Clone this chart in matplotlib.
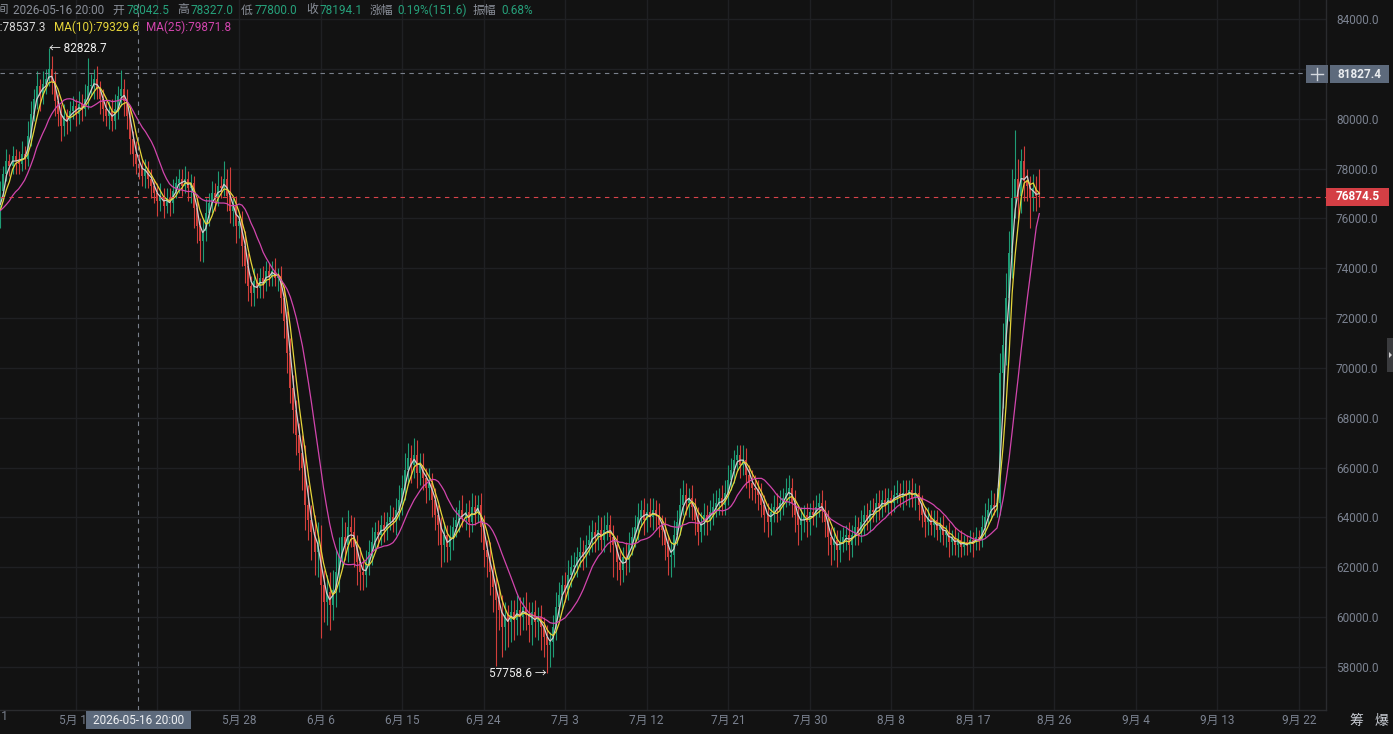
import numpy as np
import pandas as pd
import matplotlib
matplotlib.use("Agg")
import matplotlib.pyplot as plt
from matplotlib.patches import Rectangle, Polygon

plt.rcParams['font.family'] = ['Roboto', 'Noto Sans CJK SC', 'DejaVu Sans']

# ---------------- data (8h candles) ----------------
pre_closes = [75800, 76200, 76600, 76100, 76400, 76900, 77300, 76800, 76500, 76900,
              77200, 76700, 76300, 76600, 76200, 75900, 76300, 76700, 76400, 76000,
              75800, 76200, 76500, 76100]

closes = [
    77100, 77800, 78300, 78100, 78500, 78300, 78200, 78600, 78400, 79300,
    80200, 80800, 81300, 80900, 81400, 81600, 82000, 81500, 80700, 80200,
    79700, 80100, 79900, 80300, 80500, 80200, 80600, 80400, 80800, 81300,
    81300, 81600, 81200, 80800, 80400, 80100, 80300, 79900, 80400, 80900,
    81200, 80700, 80100, 79200, 78600, 78200, 78100, 77700, 78000, 77600,
    77300, 77000, 76700, 76900, 76500, 76800, 76600, 77100, 77400, 77600,
    77300, 77600, 77200, 77400, 76400, 75700, 75100, 75500, 76200, 76600,
    77000, 76800, 77300, 77200, 77600, 76900, 76300, 76500, 75700, 75900,
    74900, 74100, 73300, 73000, 73500, 73200, 73600, 73400, 73900, 73700,
    73900, 73600, 73700, 72800, 71900, 70600, 69200, 68300, 67300, 66600,
    66000, 64500, 63900, 63400, 62600, 62900, 61300, 60600, 61000, 60500,
    61100, 61800, 62500, 63200, 62900, 63600, 63400, 62800, 62200, 61800,
    61700, 62100, 62600, 63000, 63400, 63300, 63700, 63500, 63800, 64000,
    63800, 64300, 64700, 65200, 65900, 66400, 66100, 66500, 65800, 66100,
    65600, 65200, 65400, 64700, 64100, 63700, 62900, 63300, 62800, 63200,
    63600, 63900, 64300, 64000, 64200, 63800, 64400, 64200, 64500, 63600,
    62700, 62400, 61800, 61200, 60700, 60300, 59600, 60100, 59800, 60200,
    59900, 60300, 60000, 60400, 60100, 59700, 60200, 59800, 60000, 59600,
    59200, 58900, 59000, 59600, 60400, 60900, 61300, 61100, 61700, 62000,
    62100, 62400, 62600, 62500, 62900, 63100, 63400, 63200, 63500, 63100,
    63500, 63700, 63200, 62900, 62200, 61900, 62400, 62300, 62900, 63200,
    63600, 64000, 64300, 63900, 64200, 64000, 64300, 64100, 63700, 63500,
    62900, 62400, 62500, 63300, 63800, 64500, 64900, 64600, 64800, 64400,
    63900, 63400, 63800, 64100, 63900, 64200, 64400, 64600, 64800, 64500,
    65000, 65500, 65900, 66300, 66500, 66100, 66300, 65700, 65400, 65200,
    65100, 64900, 64500, 64100, 63800, 64200, 64400, 64300, 64600, 64800,
    65000, 65200, 64600, 64100, 63700, 63900, 64100, 63800, 64200, 64100,
    64400, 64600, 64300, 63800, 63200, 62900, 63100, 62700, 63000, 63200,
    63300, 62900, 63300, 63600, 63400, 63800, 64100, 63900, 64300, 64200,
    64600, 64400, 64700, 64500, 64800, 64600, 64900, 65000, 64800, 65000,
    64900, 65100, 64800, 65000, 64500, 64100, 63800, 64000, 63700, 63900,
    63500, 63700, 63300, 63400, 63000, 63200, 62900, 63100, 62800, 63000,
    62900, 63100, 63000, 63200, 63100, 63600, 64000, 64300, 64500, 64400,
    64600, 69800, 70900, 72800, 74600, 76800, 77600, 76900, 78300, 77500,
    77300, 76800, 77200, 76900, 76874.5]

# upper / lower wick lengths, in hundreds
wick_up = [
    4, 3, 5, 3, 4, 3, 4, 5, 3, 6,
    5, 4, 6, 3, 5, 4, 8.287, 5, 4, 3,
    4, 5, 3, 4, 4, 3, 5, 4, 6, 11.3,
    5, 4, 5, 3, 4, 3, 4, 5, 6, 4,
    7.5, 4, 5, 4, 3, 5, 4, 3, 4, 3,
    4, 3, 4, 5, 3, 4, 4, 5, 3, 4,
    4, 5, 3, 4, 3, 4, 3, 5, 6, 4,
    5, 4, 6, 4, 7, 4, 11.5, 3, 4, 3,
    4, 6, 5, 4, 5, 3, 4, 5, 4, 3,
    4, 5, 3, 4, 5, 4, 6, 5, 4, 5,
    7, 9, 8, 6, 7, 9, 8, 6, 7, 8,
    8, 9, 7, 8, 6, 7, 5, 6, 5, 6,
    5, 6, 5, 6, 4, 5, 4, 5, 4, 5,
    4, 5, 6, 5, 7, 6, 5, 7, 6, 5,
    5, 4, 6, 4, 5, 4, 3, 5, 4, 5,
    4, 5, 4, 6, 4, 5, 6, 5, 4, 5,
    5, 4, 6, 5, 4, 5, 6, 5, 4, 5,
    5, 6, 5, 4, 6, 5, 4, 5, 4, 5,
    4, 5, 4, 5, 6, 5, 4, 5, 6, 5,
    5, 4, 6, 5, 4, 6, 5, 4, 6, 5,
    6, 5, 4, 5, 4, 5, 4, 6, 5, 4,
    5, 6, 4, 5, 4, 6, 5, 4, 5, 4,
    5, 4, 5, 6, 5, 7, 6, 5, 4, 5,
    4, 5, 4, 5, 4, 5, 6, 5, 4, 5,
    5, 6, 5, 4, 4, 4, 6, 5, 4, 5,
    5, 4, 5, 4, 5, 4, 5, 6, 5, 4,
    6, 5, 4, 5, 4, 5, 4, 5, 4, 5,
    5, 4, 5, 4, 5, 4, 5, 4, 5, 4,
    4, 5, 4, 5, 4, 5, 4, 5, 4, 5,
    4, 5, 4, 5, 4, 3, 4, 5, 4, 5,
    5, 4, 5, 4, 3, 4, 3, 4, 3, 4,
    4, 3, 4, 3, 4, 3, 4, 3, 4, 3,
    3, 4, 3, 4, 3, 5, 6, 5, 6, 5,
    6, 8, 9, 10, 9, 12, 19.5, 8, 5, 6,
    5, 4, 6, 5, 11]

wick_dn = [
    5, 4, 3, 4, 3, 5, 4, 3, 4, 3,
    4, 3, 4, 6, 3, 4, 3, 5, 6, 5,
    6, 4, 5, 4, 3, 5, 4, 5, 3, 4,
    4, 5, 4, 6, 5, 4, 5, 4, 3, 4,
    4, 6, 5, 6, 5, 4, 5, 4, 5, 4,
    5, 4, 6, 4, 5, 3, 5, 4, 3, 4,
    4, 3, 5, 6, 8, 7, 8, 8.5, 4, 5,
    4, 5, 3, 4, 3, 6, 5, 6, 7, 5,
    8, 7, 6, 5, 5, 4, 4, 6, 3, 4,
    4, 3, 5, 6, 7, 8, 6, 9, 8, 7,
    9, 10, 8, 11, 9, 10, 21.5, 8, 9, 10,
    6, 7, 8, 5, 6, 7, 6, 8, 9, 7,
    6, 5, 4, 5, 4, 5, 4, 5, 4, 3,
    4, 5, 4, 6, 5, 6, 7, 5, 6, 5,
    5, 6, 5, 7, 6, 8, 9, 7, 6, 5,
    5, 4, 5, 4, 5, 6, 4, 5, 4, 6,
    7, 8, 9, 10, 26.5, 8, 12, 9, 10, 8,
    8, 6, 7, 5, 6, 7, 8, 6, 7, 9,
    8, 11.414, 9, 6, 5, 4, 6, 5, 4, 5,
    4, 5, 4, 6, 5, 4, 5, 6, 5, 4,
    5, 4, 6, 13, 7, 6, 5, 6, 5, 4,
    4, 5, 4, 6, 5, 4, 5, 6, 5, 6,
    6, 7, 8, 5, 4, 5, 4, 5, 6, 5,
    6, 5, 4, 5, 6, 4, 5, 4, 5, 4,
    4, 5, 4, 5, 4, 5, 4, 5, 6, 5,
    5, 6, 5, 7, 6, 5, 4, 5, 4, 5,
    4, 5, 6, 7, 8, 6, 5, 6, 5, 4,
    5, 4, 5, 6, 7, 8, 6, 7, 5, 4,
    5, 6, 5, 4, 5, 4, 5, 4, 5, 4,
    4, 5, 4, 3, 4, 5, 4, 3, 4, 5,
    4, 5, 4, 5, 6, 5, 6, 5, 4, 5,
    4, 5, 4, 5, 6, 5, 4, 5, 4, 3,
    4, 3, 6, 3, 4, 3, 4, 3, 4, 3,
    4, 5, 14, 8, 9, 10, 8, 9, 7, 8,
    6, 12, 5, 6, 4]

tick_labels = ["5月 1", "5月 10", "5月 19", "5月 28", "6月 6", "6月 15", "6月 24",
               "7月 3", "7月 12", "7月 21", "7月 30", "8月 8", "8月 17", "8月 26",
               "9月 4", "9月 13", "9月 22"]
tick_dates = ["2026-05-01", "2026-05-10", "2026-05-19", "2026-05-28", "2026-06-06",
              "2026-06-15", "2026-06-24", "2026-07-03", "2026-07-12", "2026-07-21",
              "2026-07-30", "2026-08-08", "2026-08-17", "2026-08-26", "2026-09-04",
              "2026-09-13", "2026-09-22"]
hidden_tick_dates = ["2026-05-19"]      # covered by the crosshair time label
y_ticks = list(range(58000, 84001, 2000))
hidden_y_ticks = [82000]                # covered by the crosshair price label

# MA periods are counted in 4h bars of the original chart
ma_periods = [5, 10, 25]
bar_hours = 4

cross_time = "2026-05-16 20:00"
cross_price = 81827.4
last_price = 76874.5

# ---------------- prep ----------------
origin = pd.Timestamp("2026-05-01 00:00")
start = pd.Timestamp("2026-05-01 16:00")
npre = len(pre_closes)
all_times = pd.date_range(start - pd.Timedelta(hours=8 * npre),
                          periods=npre + len(closes), freq="8h")
times = all_times[npre:]
tdays = ((times - origin) / pd.Timedelta(days=1)).to_numpy()

all_c = np.array(pre_closes + closes, dtype=float)
c = np.array(closes, dtype=float)
o = all_c[npre - 1:-1]
hi = np.maximum(o, c) + np.array(wick_up) * 100
lo = np.minimum(o, c) - np.array(wick_dn) * 100

ser = pd.Series(all_c, index=all_times)
mas = [ser.rolling(f"{p * bar_hours}h").mean().to_numpy()[npre:] for p in ma_periods]

GREEN = "#1f9c75"
RED = "#d23f3b"
BG = "#121212"
GRID = "#1f2023"
AXC = "#7b8290"

W, H = 1393, 734
fig = plt.figure(figsize=(W / 100, H / 100), dpi=100, facecolor=BG)
ax = fig.add_axes([0, 24 / H, 1326 / W, 710 / H], facecolor=BG)

x0_day = 0.62
x1_day = x0_day + 1326 / 9.06
ax.set_xlim(x0_day, x1_day)
ax.set_ylim(56275, 84762)

tick_x = [(pd.Timestamp(d) - origin) / pd.Timedelta(days=1) for d in tick_dates]
shown = ["" if d in hidden_tick_dates else lab for lab, d in zip(tick_labels, tick_dates)]
ax.set_xticks(tick_x[1:])
ax.set_xticklabels(shown[1:])
ax.set_yticks(y_ticks)
ax.set_yticklabels(["" if v in hidden_y_ticks else f"{v:.1f}" for v in y_ticks])
ax.yaxis.tick_right()
ax.tick_params(axis="y", length=0, pad=7.2, labelsize=8.5, labelcolor=AXC)
ax.tick_params(axis="x", length=0, pad=3, labelsize=8.5, labelcolor=AXC)
ax.grid(True, color=GRID, lw=1)
ax.set_axisbelow(True)
for s in ["top", "left"]:
    ax.spines[s].set_visible(False)
for s in ["bottom", "right"]:
    ax.spines[s].set_color("#2a2b2e")
    ax.spines[s].set_linewidth(1)

# first tick label (mostly off-canvas)
ax.text(tick_x[0], -0.0, tick_labels[0], transform=ax.get_xaxis_transform(),
        ha="center", va="top", fontsize=8.5, color=AXC, clip_on=False)

# candles
cols = np.where(c >= o, GREEN, RED)
ax.vlines(tdays, lo, hi, colors=cols, lw=0.8, zorder=2)
min_h = 1 / 0.024923
ax.bar(tdays, np.maximum(np.abs(c - o), min_h), bottom=np.minimum(o, c),
       width=0.22, color=cols, linewidth=0, zorder=3)

# moving averages
for ma, col in zip(mas, ["#cfcfcf", "#e6d53a", "#d245ad"]):
    ax.plot(tdays, ma, color=col, lw=0.9, zorder=4)

# current price line and crosshair
ax.axhline(last_price, color="#d8434a", lw=0.8, dashes=(4, 4), zorder=5)
ax.axhline(cross_price, color="#7a808c", lw=0.8, dashes=(4, 4), zorder=5)
cross_day = (pd.Timestamp(cross_time) - origin) / pd.Timedelta(days=1)
ax.axvline(cross_day, color="#7a808c", lw=0.8, dashes=(4, 4), zorder=5)

# extreme annotations
imax = int(np.argmax(hi))
imin = int(np.argmin(lo))
ax.annotate(f"← {hi[imax]:.1f}", (tdays[imax], hi[imax]), xytext=(0, 0),
            textcoords="offset points", ha="left", va="center", fontsize=8.5,
            color="#f0f0f0", zorder=6)
ax.annotate(f"{lo[imin]:.1f} →", (tdays[imin], lo[imin]), xytext=(0, 0),
            textcoords="offset points", ha="right", va="center", fontsize=8.5,
            color="#f0f0f0", zorder=6)


# ---------------- overlays in pixel coordinates ----------------
def rect(x0, y0, x1, y1, color, z=5):
    fig.add_artist(Rectangle((x0 / W, 1 - y1 / H), (x1 - x0) / W, (y1 - y0) / H,
                             transform=fig.transFigure, facecolor=color,
                             edgecolor="none", zorder=z))


def ftext(x, y, s, **kw):
    kw.setdefault("fontsize", 8.5)
    kw.setdefault("va", "center")
    fig.text(x / W, 1 - y / H, s, **kw)


# bottom crosshair time label
rect(86, 711, 191, 729, "#5d6a7c")
ftext(138.5, 720, cross_time, ha="center", color="#eef0f3", zorder=6)

# crosshair price label with + box
rect(1306, 65, 1328, 83, "#5b6677")
fig.add_artist(plt.Line2D([1311 / W, 1323 / W], [1 - 74 / H, 1 - 74 / H],
                          transform=fig.transFigure, color="#d5d9df", lw=1, zorder=6))
fig.add_artist(plt.Line2D([1317 / W, 1317 / W], [1 - 68 / H, 1 - 80 / H],
                          transform=fig.transFigure, color="#d5d9df", lw=1, zorder=6))
rect(1330, 65, 1389, 83, "#5d6a7c")
ftext(1359.5, 74, f"{cross_price:.1f}", ha="center", color="#e9ecef",
      fontweight="bold", zorder=6)

# last price label
rect(1326, 188, 1389, 206, "#d43f45")
ftext(1357.5, 197, f"{last_price:.1f}", ha="center", color="#ffffff",
      fontweight="bold", zorder=6)

# right edge tab
rect(1387, 338, 1393, 372, "#3a3b3e")
fig.add_artist(Polygon([[1389 / W, 1 - 352 / H], [1389 / W, 1 - 358 / H],
                        [1392 / W, 1 - 355 / H]], closed=True,
                       transform=fig.transFigure, facecolor="#d0d0d0",
                       edgecolor="none", zorder=6))

# bottom-right labels
ftext(1356, 721, "筹", ha="center", color="#c9cdd4", fontsize=10)
ftext(1381, 721, "爆", ha="center", color="#c9cdd4", fontsize=10)

# top OHLC legend
LBL = "#8a8f99"
VAL = "#26a17b"
ftext(9, 10, "时间", ha="right", color=LBL)
legend1 = [("2026-05-16 20:00", 13, LBL), ("开", 112, LBL), ("78042.5", 127, VAL),
           ("高", 177, LBL), ("78327.0", 191, VAL), ("低", 241, LBL),
           ("77800.0", 255, VAL), ("收", 306, LBL), ("78194.1", 320, VAL),
           ("涨幅", 370, LBL), ("0.19%(151.6)", 397, VAL), ("振幅", 473, LBL),
           ("0.68%", 501, VAL)]
for s, x, col in legend1:
    ftext(x, 10, s, ha="left", color=col)

ftext(45, 27, "MA(5):78537.3", ha="right", color="#d9d9d9")
ftext(54, 27, "MA(10):79329.6", ha="left", color="#e6d53a")
ftext(146, 27, "MA(25):79871.8", ha="left", color="#d245ad")

fig.savefig("out.png", dpi=100, facecolor=BG)
